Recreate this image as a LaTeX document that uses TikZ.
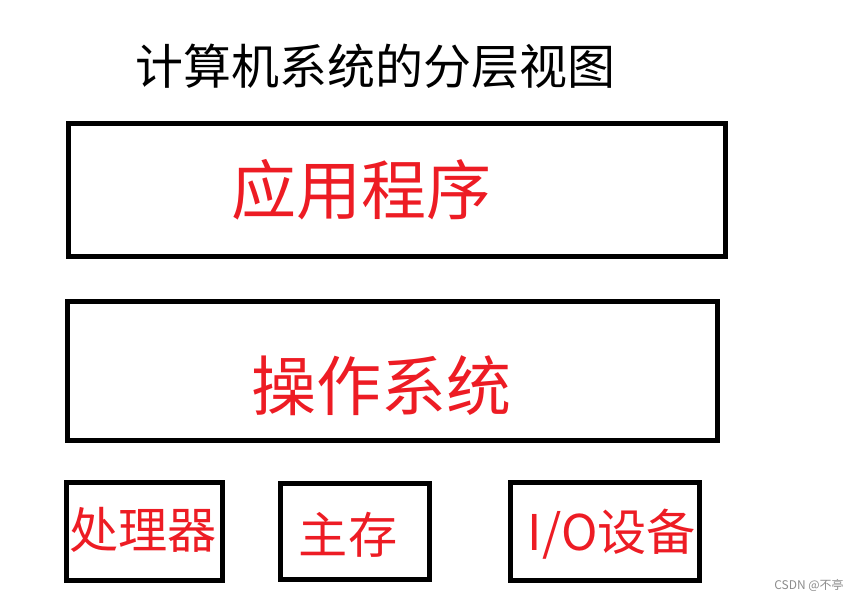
\documentclass[tikz,border=0pt]{standalone}
\usepackage{fontspec}
\setmainfont{Noto Sans CJK SC}
\definecolor{layerred}{RGB}{237,28,36}

\begin{document}
\begin{tikzpicture}[x=0.02cm, y=-0.02cm]

    % --- Cadre (858 x 600 px) ---
    \useasboundingbox (0,0) rectangle (858,600);

    % --- Styles ---
    \tikzstyle{layerbox} = [draw=black, line width=0.1cm, inner sep=0pt]
    \tikzstyle{bigtext} = [text=layerred, inner sep=0pt, font=\fontsize{37pt}{40pt}\selectfont]
    \tikzstyle{smalltext} = [text=layerred, inner sep=0pt, font=\fontsize{28pt}{30pt}\selectfont]

    % --- Titre ---
    \node[inner sep=0pt, font=\fontsize{27.3pt}{30pt}\selectfont] (title) at (375.5,66) {计算机系统的分层视图};

    % --- Couches ---
    \node[layerbox, minimum width=13.15cm, minimum height=2.66cm] (appbox) at (397.25,190) {};
    \node[bigtext] (app) at (361.5,189.5) {应用程序};

    \node[layerbox, minimum width=13cm, minimum height=2.78cm] (osbox) at (392.5,370.5) {};
    \node[bigtext] (os) at (381.5,386) {操作系统};

    % --- Matériel ---
    \node[layerbox, minimum width=3.13cm, minimum height=1.96cm] (cpubox) at (144.75,531) {};
    \node[smalltext] (cpu) at (143,530) {处理器};

    \node[layerbox, minimum width=2.99cm, minimum height=1.93cm] (membox) at (355.25,531.25) {};
    \node[smalltext] (mem) at (348,535) {主存};

    \node[layerbox, minimum width=3.79cm, minimum height=1.96cm] (iobox) at (605.25,531) {};
    \node[smalltext] (io) at (612,534.5) {I/O设备};

    % --- Filigrane ---
    \node[text=black!45, inner sep=0pt, font=\fontsize{6.8pt}{7.5pt}\selectfont] (mark) at (809,585) {CSDN @不亭};

\end{tikzpicture}
\end{document}
